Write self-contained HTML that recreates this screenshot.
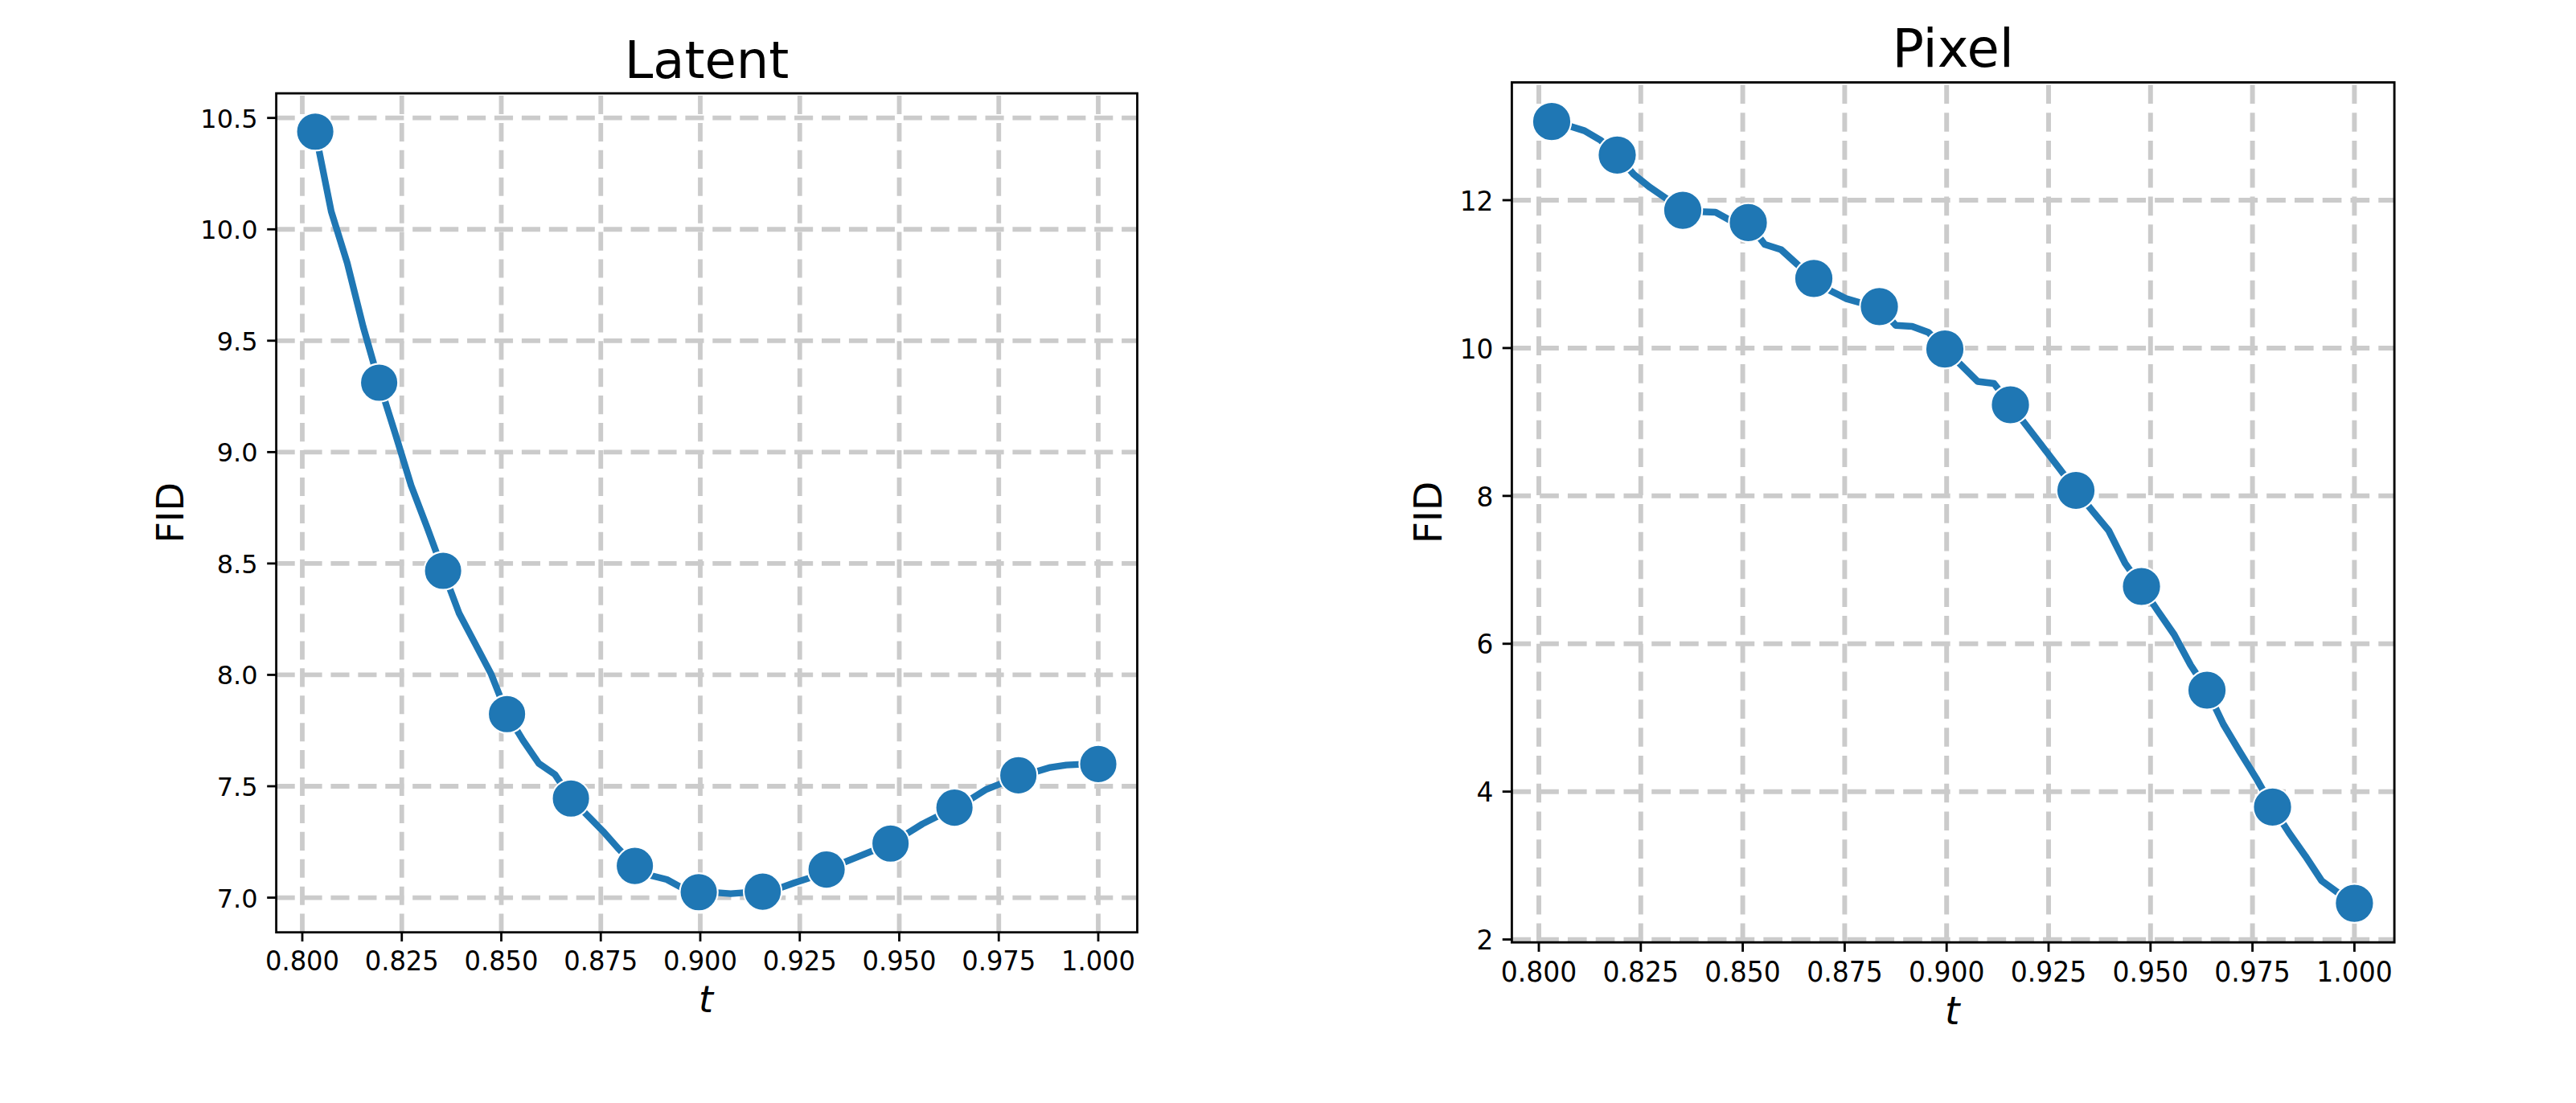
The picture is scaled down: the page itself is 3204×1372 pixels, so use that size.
<!DOCTYPE html>
<html lang="en"><head><meta charset="utf-8"><title>FID vs t</title>
<style>
html,body{margin:0;padding:0;background:#fff;}
body{width:3204px;height:1372px;overflow:hidden;}
svg{display:block;}
svg text{font-family:"DejaVu Sans","Liberation Sans",sans-serif;fill:#000;}
</style></head><body>
<svg width="3204" height="1372" viewBox="0 0 3204 1372">
<rect width="3204" height="1372" fill="#fff"/>
<g id="latent">
<g stroke="#cbcbcb" stroke-width="5.8" stroke-dasharray="23.1 10.82" fill="none">
<line x1="376" y1="1159.7" x2="376" y2="116.1"/>
<line x1="499.75" y1="1159.7" x2="499.75" y2="116.1"/>
<line x1="623.5" y1="1159.7" x2="623.5" y2="116.1"/>
<line x1="747.25" y1="1159.7" x2="747.25" y2="116.1"/>
<line x1="871" y1="1159.7" x2="871" y2="116.1"/>
<line x1="994.75" y1="1159.7" x2="994.75" y2="116.1"/>
<line x1="1118.5" y1="1159.7" x2="1118.5" y2="116.1"/>
<line x1="1242.25" y1="1159.7" x2="1242.25" y2="116.1"/>
<line x1="1366" y1="1159.7" x2="1366" y2="116.1"/>
<line x1="343.6" y1="1116.55" x2="1414.5" y2="1116.55"/>
<line x1="343.6" y1="978" x2="1414.5" y2="978"/>
<line x1="343.6" y1="839.45" x2="1414.5" y2="839.45"/>
<line x1="343.6" y1="700.9" x2="1414.5" y2="700.9"/>
<line x1="343.6" y1="562.35" x2="1414.5" y2="562.35"/>
<line x1="343.6" y1="423.8" x2="1414.5" y2="423.8"/>
<line x1="343.6" y1="285.25" x2="1414.5" y2="285.25"/>
<line x1="343.6" y1="146.7" x2="1414.5" y2="146.7"/>
</g>
<path d="M392.1 163.8 L411.98 263 L431.85 327 L451.73 406.5 L471.6 476 L491.48 539 L511.36 604 L531.23 656 L551.11 710 L570.98 762.7 L590.86 800.4 L610.74 838.1 L630.61 888.2 L650.49 920.8 L670.36 949.8 L690.24 963.4 L710.12 993.3 L729.99 1013.6 L749.87 1033.8 L769.74 1056.2 L789.62 1077.1 L809.5 1089 L829.37 1094 L849.25 1104.8 L869.12 1109.7 L889 1110.2 L908.88 1111.6 L928.75 1110.2 L948.63 1109.1 L968.5 1105.2 L988.38 1098 L1008.26 1091.6 L1028.13 1081.6 L1048.01 1073.4 L1067.88 1065.4 L1087.76 1057.3 L1107.64 1049.3 L1127.51 1037.2 L1147.39 1024.9 L1167.26 1014.9 L1187.14 1004.6 L1207.02 994.3 L1226.89 981.8 L1246.77 974 L1266.64 964.4 L1286.52 960.5 L1306.4 954.6 L1326.27 951.7 L1346.15 950.7 L1366.02 950.4" fill="none" stroke="#1f77b4" stroke-width="8.3" stroke-linejoin="round" stroke-linecap="round"/>
<g fill="#1f77b4" stroke="#fff" stroke-width="2.1">
<circle cx="392.1" cy="163.8" r="23.6"/>
<circle cx="471.6" cy="476" r="23.6"/>
<circle cx="551.11" cy="710" r="23.6"/>
<circle cx="630.61" cy="888.2" r="23.6"/>
<circle cx="710.12" cy="993.3" r="23.6"/>
<circle cx="789.62" cy="1077.1" r="23.6"/>
<circle cx="869.12" cy="1109.7" r="23.6"/>
<circle cx="948.63" cy="1109.1" r="23.6"/>
<circle cx="1028.13" cy="1081.6" r="23.6"/>
<circle cx="1107.64" cy="1049.3" r="23.6"/>
<circle cx="1187.14" cy="1004.6" r="23.6"/>
<circle cx="1266.64" cy="964.4" r="23.6"/>
<circle cx="1366.02" cy="950.4" r="23.6"/>
</g>
<g stroke="#000" stroke-width="2.8">
<line x1="376" y1="1159.7" x2="376" y2="1171.1"/>
<line x1="499.75" y1="1159.7" x2="499.75" y2="1171.1"/>
<line x1="623.5" y1="1159.7" x2="623.5" y2="1171.1"/>
<line x1="747.25" y1="1159.7" x2="747.25" y2="1171.1"/>
<line x1="871" y1="1159.7" x2="871" y2="1171.1"/>
<line x1="994.75" y1="1159.7" x2="994.75" y2="1171.1"/>
<line x1="1118.5" y1="1159.7" x2="1118.5" y2="1171.1"/>
<line x1="1242.25" y1="1159.7" x2="1242.25" y2="1171.1"/>
<line x1="1366" y1="1159.7" x2="1366" y2="1171.1"/>
<line x1="332.2" y1="1116.55" x2="343.6" y2="1116.55"/>
<line x1="332.2" y1="978" x2="343.6" y2="978"/>
<line x1="332.2" y1="839.45" x2="343.6" y2="839.45"/>
<line x1="332.2" y1="700.9" x2="343.6" y2="700.9"/>
<line x1="332.2" y1="562.35" x2="343.6" y2="562.35"/>
<line x1="332.2" y1="423.8" x2="343.6" y2="423.8"/>
<line x1="332.2" y1="285.25" x2="343.6" y2="285.25"/>
<line x1="332.2" y1="146.7" x2="343.6" y2="146.7"/>
</g>
<rect x="343.6" y="116.1" width="1070.9" height="1043.6" fill="none" stroke="#000" stroke-width="2.8"/>
<g font-size="32.2" text-anchor="middle">
<text transform="translate(376 1207) scale(1 1.05)">0.800</text>
<text transform="translate(499.75 1207) scale(1 1.05)">0.825</text>
<text transform="translate(623.5 1207) scale(1 1.05)">0.850</text>
<text transform="translate(747.25 1207) scale(1 1.05)">0.875</text>
<text transform="translate(871 1207) scale(1 1.05)">0.900</text>
<text transform="translate(994.75 1207) scale(1 1.05)">0.925</text>
<text transform="translate(1118.5 1207) scale(1 1.05)">0.950</text>
<text transform="translate(1242.25 1207) scale(1 1.05)">0.975</text>
<text transform="translate(1366 1207) scale(1 1.05)">1.000</text>
</g>
<g font-size="32" text-anchor="end">
<text transform="translate(320.6 1128.55) scale(1 1.012)">7.0</text>
<text transform="translate(320.6 990) scale(1 1.012)">7.5</text>
<text transform="translate(320.6 851.45) scale(1 1.012)">8.0</text>
<text transform="translate(320.6 712.9) scale(1 1.012)">8.5</text>
<text transform="translate(320.6 574.35) scale(1 1.012)">9.0</text>
<text transform="translate(320.6 435.8) scale(1 1.012)">9.5</text>
<text transform="translate(320.6 297.25) scale(1 1.012)">10.0</text>
<text transform="translate(320.6 158.7) scale(1 1.012)">10.5</text>
</g>
<text x="879.05" y="97" font-size="63.9" text-anchor="middle">Latent</text>
<text x="878.05" y="1259.2" font-size="46" font-style="italic" text-anchor="middle">t</text>
<text transform="translate(228 637.9) rotate(-90)" font-size="46" text-anchor="middle">FID</text>
</g>
<g id="pixel">
<g stroke="#cbcbcb" stroke-width="5.94" stroke-dasharray="23.68 11.09" fill="none">
<line x1="1914" y1="1172.2" x2="1914" y2="102.5"/>
<line x1="2040.8" y1="1172.2" x2="2040.8" y2="102.5"/>
<line x1="2167.6" y1="1172.2" x2="2167.6" y2="102.5"/>
<line x1="2294.4" y1="1172.2" x2="2294.4" y2="102.5"/>
<line x1="2421.2" y1="1172.2" x2="2421.2" y2="102.5"/>
<line x1="2548" y1="1172.2" x2="2548" y2="102.5"/>
<line x1="2674.8" y1="1172.2" x2="2674.8" y2="102.5"/>
<line x1="2801.6" y1="1172.2" x2="2801.6" y2="102.5"/>
<line x1="2928.4" y1="1172.2" x2="2928.4" y2="102.5"/>
<line x1="1880.4" y1="1168.6" x2="2978.1" y2="1168.6"/>
<line x1="1880.4" y1="984.68" x2="2978.1" y2="984.68"/>
<line x1="1880.4" y1="800.76" x2="2978.1" y2="800.76"/>
<line x1="1880.4" y1="616.84" x2="2978.1" y2="616.84"/>
<line x1="1880.4" y1="432.92" x2="2978.1" y2="432.92"/>
<line x1="1880.4" y1="249" x2="2978.1" y2="249"/>
</g>
<path d="M1930 151.2 L1950.38 156.3 L1970.75 162.6 L1991.13 174.7 L2011.5 192.8 L2031.88 216.8 L2052.26 233.1 L2072.63 247 L2093.01 261.6 L2113.38 263.3 L2133.76 264.1 L2154.14 275.2 L2174.51 276.9 L2194.89 304 L2215.26 310.5 L2235.64 329 L2256.02 346.4 L2276.39 361.5 L2296.77 371.7 L2317.14 377.5 L2337.52 381.4 L2357.9 404.7 L2378.27 405.9 L2398.65 413.6 L2419.02 434.2 L2439.4 454.2 L2459.78 474.5 L2480.15 477 L2500.53 503.5 L2520.9 530 L2541.28 556.5 L2561.66 583 L2582.03 610 L2602.41 635.4 L2622.78 660 L2643.16 700.6 L2663.54 729.5 L2683.91 760 L2704.29 789.5 L2724.66 827.2 L2745.04 858.5 L2765.42 901 L2785.79 935 L2806.17 967.9 L2826.54 1003.8 L2846.92 1035.8 L2867.3 1064.7 L2887.67 1095.6 L2908.05 1110.5 L2928.42 1123.6" fill="none" stroke="#1f77b4" stroke-width="8.51" stroke-linejoin="round" stroke-linecap="round"/>
<g fill="#1f77b4" stroke="#fff" stroke-width="2.15">
<circle cx="1930" cy="151.2" r="24.19"/>
<circle cx="2011.5" cy="192.8" r="24.19"/>
<circle cx="2093.01" cy="261.6" r="24.19"/>
<circle cx="2174.51" cy="276.9" r="24.19"/>
<circle cx="2256.02" cy="346.4" r="24.19"/>
<circle cx="2337.52" cy="381.4" r="24.19"/>
<circle cx="2419.02" cy="434.2" r="24.19"/>
<circle cx="2500.53" cy="503.5" r="24.19"/>
<circle cx="2582.03" cy="610" r="24.19"/>
<circle cx="2663.54" cy="729.5" r="24.19"/>
<circle cx="2745.04" cy="858.5" r="24.19"/>
<circle cx="2826.54" cy="1003.8" r="24.19"/>
<circle cx="2928.42" cy="1123.6" r="24.19"/>
</g>
<g stroke="#000" stroke-width="2.87">
<line x1="1914" y1="1172.2" x2="1914" y2="1183.88"/>
<line x1="2040.8" y1="1172.2" x2="2040.8" y2="1183.88"/>
<line x1="2167.6" y1="1172.2" x2="2167.6" y2="1183.88"/>
<line x1="2294.4" y1="1172.2" x2="2294.4" y2="1183.88"/>
<line x1="2421.2" y1="1172.2" x2="2421.2" y2="1183.88"/>
<line x1="2548" y1="1172.2" x2="2548" y2="1183.88"/>
<line x1="2674.8" y1="1172.2" x2="2674.8" y2="1183.88"/>
<line x1="2801.6" y1="1172.2" x2="2801.6" y2="1183.88"/>
<line x1="2928.4" y1="1172.2" x2="2928.4" y2="1183.88"/>
<line x1="1868.72" y1="1168.6" x2="1880.4" y2="1168.6"/>
<line x1="1868.72" y1="984.68" x2="1880.4" y2="984.68"/>
<line x1="1868.72" y1="800.76" x2="1880.4" y2="800.76"/>
<line x1="1868.72" y1="616.84" x2="1880.4" y2="616.84"/>
<line x1="1868.72" y1="432.92" x2="1880.4" y2="432.92"/>
<line x1="1868.72" y1="249" x2="1880.4" y2="249"/>
</g>
<rect x="1880.4" y="102.5" width="1097.7" height="1069.7" fill="none" stroke="#000" stroke-width="2.87"/>
<g font-size="33.01" text-anchor="middle">
<text transform="translate(1914 1220.6) scale(1 1.05)">0.800</text>
<text transform="translate(2040.8 1220.6) scale(1 1.05)">0.825</text>
<text transform="translate(2167.6 1220.6) scale(1 1.05)">0.850</text>
<text transform="translate(2294.4 1220.6) scale(1 1.05)">0.875</text>
<text transform="translate(2421.2 1220.6) scale(1 1.05)">0.900</text>
<text transform="translate(2548 1220.6) scale(1 1.05)">0.925</text>
<text transform="translate(2674.8 1220.6) scale(1 1.05)">0.950</text>
<text transform="translate(2801.6 1220.6) scale(1 1.05)">0.975</text>
<text transform="translate(2928.4 1220.6) scale(1 1.05)">1.000</text>
</g>
<g font-size="32.8" text-anchor="end">
<text transform="translate(1857.4 1181.3) scale(1 1.012)">2</text>
<text transform="translate(1857.4 997.38) scale(1 1.012)">4</text>
<text transform="translate(1857.4 813.46) scale(1 1.012)">6</text>
<text transform="translate(1857.4 629.54) scale(1 1.012)">8</text>
<text transform="translate(1857.4 445.62) scale(1 1.012)">10</text>
<text transform="translate(1857.4 261.7) scale(1 1.012)">12</text>
</g>
<text x="2429.25" y="82.7" font-size="65.5" text-anchor="middle">Pixel</text>
<text x="2428.25" y="1274.1" font-size="47.15" font-style="italic" text-anchor="middle">t</text>
<text transform="translate(1792.9 637.35) rotate(-90)" font-size="47.15" text-anchor="middle">FID</text>
</g>
</svg>
</body></html>
